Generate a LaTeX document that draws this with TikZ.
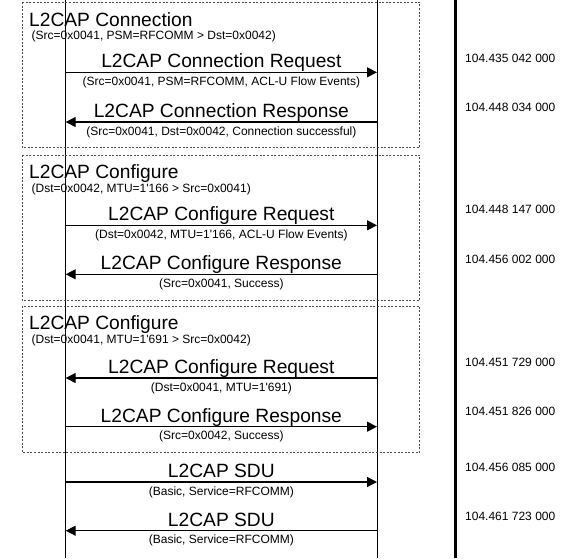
\documentclass[tikz,border=0pt]{standalone}
\usepackage{fontspec}
\setmainfont{Liberation Sans}
\usetikzlibrary{arrows.meta}
\tikzset{
  msg/.style={line width=1.2pt,-{Triangle[length=10pt,width=10pt]}},
  grp/.style={draw=black!70,line width=0.8pt,dash pattern=on 2pt off 1.6pt},
  big/.style={font=\fontsize{19.2}{22}\selectfont,inner sep=0pt,anchor=base},
  small/.style={font=\fontsize{12}{14}\selectfont,inner sep=0pt,anchor=base},
  stamp/.style={small,anchor=base west},
}
\newcommand{\tick}{\textquotesingle}
\begin{document}
\begin{tikzpicture}[x=1pt,y=-1pt]
    \useasboundingbox (0,0) rectangle (575,558);
    % lifelines and time axis
    \coordinate (Ltop) at (65.7,0);   \coordinate (Lbot) at (65.7,558);
    \coordinate (Rtop) at (377,0);    \coordinate (Rbot) at (377,558);
    \coordinate (Ttop) at (455.5,0);  \coordinate (Tbot) at (455.5,558);
    \draw[line width=1pt] (Ltop) -- (Lbot);
    \draw[line width=1pt] (Rtop) -- (Rbot);
    \draw[line width=3pt] (Ttop) -- (Tbot);
    % groups
    \draw[grp] (22.3,2) rectangle (419.3,147.7);
    \draw[grp] (22.3,155) rectangle (419.3,300.7);
    \draw[grp] (22.3,306) rectangle (419.3,452.7);
    \node[big,anchor=base west] (g1) at (29,26.7) {L2CAP Connection};
    \node[small,anchor=base west] (g1s) at (31.5,39.5) {(Src=0x0041, PSM=RFCOMM > Dst=0x0042)};
    \node[big,anchor=base west] (g2) at (29,178.7) {L2CAP Configure};
    \node[small,anchor=base west] (g2s) at (31.5,192.5) {(Dst=0x0042, MTU=1\tick166 > Src=0x0041)};
    \node[big,anchor=base west] (g3) at (29,329.7) {L2CAP Configure};
    \node[small,anchor=base west] (g3s) at (31.5,343.5) {(Dst=0x0041, MTU=1\tick691 > Src=0x0042)};
    % message rows
    \coordinate (l1) at (65.7,72.3);  \coordinate (r1) at (377,72.3);
    \coordinate (l2) at (65.7,122);   \coordinate (r2) at (377,122);
    \coordinate (l3) at (65.7,225.3); \coordinate (r3) at (377,225.3);
    \coordinate (l4) at (65.7,274.3); \coordinate (r4) at (377,274.3);
    \coordinate (l5) at (65.7,378);   \coordinate (r5) at (377,378);
    \coordinate (l6) at (65.7,426.7); \coordinate (r6) at (377,426.7);
    \coordinate (l7) at (65.7,482);   \coordinate (r7) at (377,482);
    \coordinate (l8) at (65.7,530.7); \coordinate (r8) at (377,530.7);
    \draw[msg] (l1) -- (r1) node[big,midway,yshift=4.5pt] (m1) {L2CAP Connection Request}
      node[small,midway,yshift=-13pt] (m1s) {(Src=0x0041, PSM=RFCOMM, ACL-U Flow Events)};
    \draw[msg] (r2) -- (l2) node[big,midway,yshift=4.5pt] (m2) {L2CAP Connection Response}
      node[small,midway,yshift=-13pt] (m2s) {(Src=0x0041, Dst=0x0042, Connection successful)};
    \draw[msg] (l3) -- (r3) node[big,midway,yshift=4.5pt] (m3) {L2CAP Configure Request}
      node[small,midway,yshift=-13pt] (m3s) {(Dst=0x0042, MTU=1\tick166, ACL-U Flow Events)};
    \draw[msg] (r4) -- (l4) node[big,midway,yshift=4.5pt] (m4) {L2CAP Configure Response}
      node[small,midway,yshift=-13pt] (m4s) {(Src=0x0041, Success)};
    \draw[msg] (r5) -- (l5) node[big,midway,yshift=4.5pt] (m5) {L2CAP Configure Request}
      node[small,midway,yshift=-13pt] (m5s) {(Dst=0x0041, MTU=1\tick691)};
    \draw[msg] (l6) -- (r6) node[big,midway,yshift=4.5pt] (m6) {L2CAP Configure Response}
      node[small,midway,yshift=-13pt] (m6s) {(Src=0x0042, Success)};
    \draw[msg] (l7) -- (r7) node[big,midway,yshift=4.5pt] (m7) {L2CAP SDU}
      node[small,midway,yshift=-13pt] (m7s) {(Basic, Service=RFCOMM)};
    \draw[msg] (r8) -- (l8) node[big,midway,yshift=4.5pt] (m8) {L2CAP SDU}
      node[small,midway,yshift=-13pt] (m8s) {(Basic, Service=RFCOMM)};
    % timestamps
    \node[stamp] (t1) at (465,62) {104.435 042 000};
    \node[stamp] (t2) at (465,111.2) {104.448 034 000};
    \node[stamp] (t3) at (465,213.8) {104.448 147 000};
    \node[stamp] (t4) at (465,263) {104.456 002 000};
    \node[stamp] (t5) at (465,366.3) {104.451 729 000};
    \node[stamp] (t6) at (465,415.2) {104.451 826 000};
    \node[stamp] (t7) at (465,471.2) {104.456 085 000};
    \node[stamp] (t8) at (465,520.3) {104.461 723 000};
\end{tikzpicture}
\end{document}
